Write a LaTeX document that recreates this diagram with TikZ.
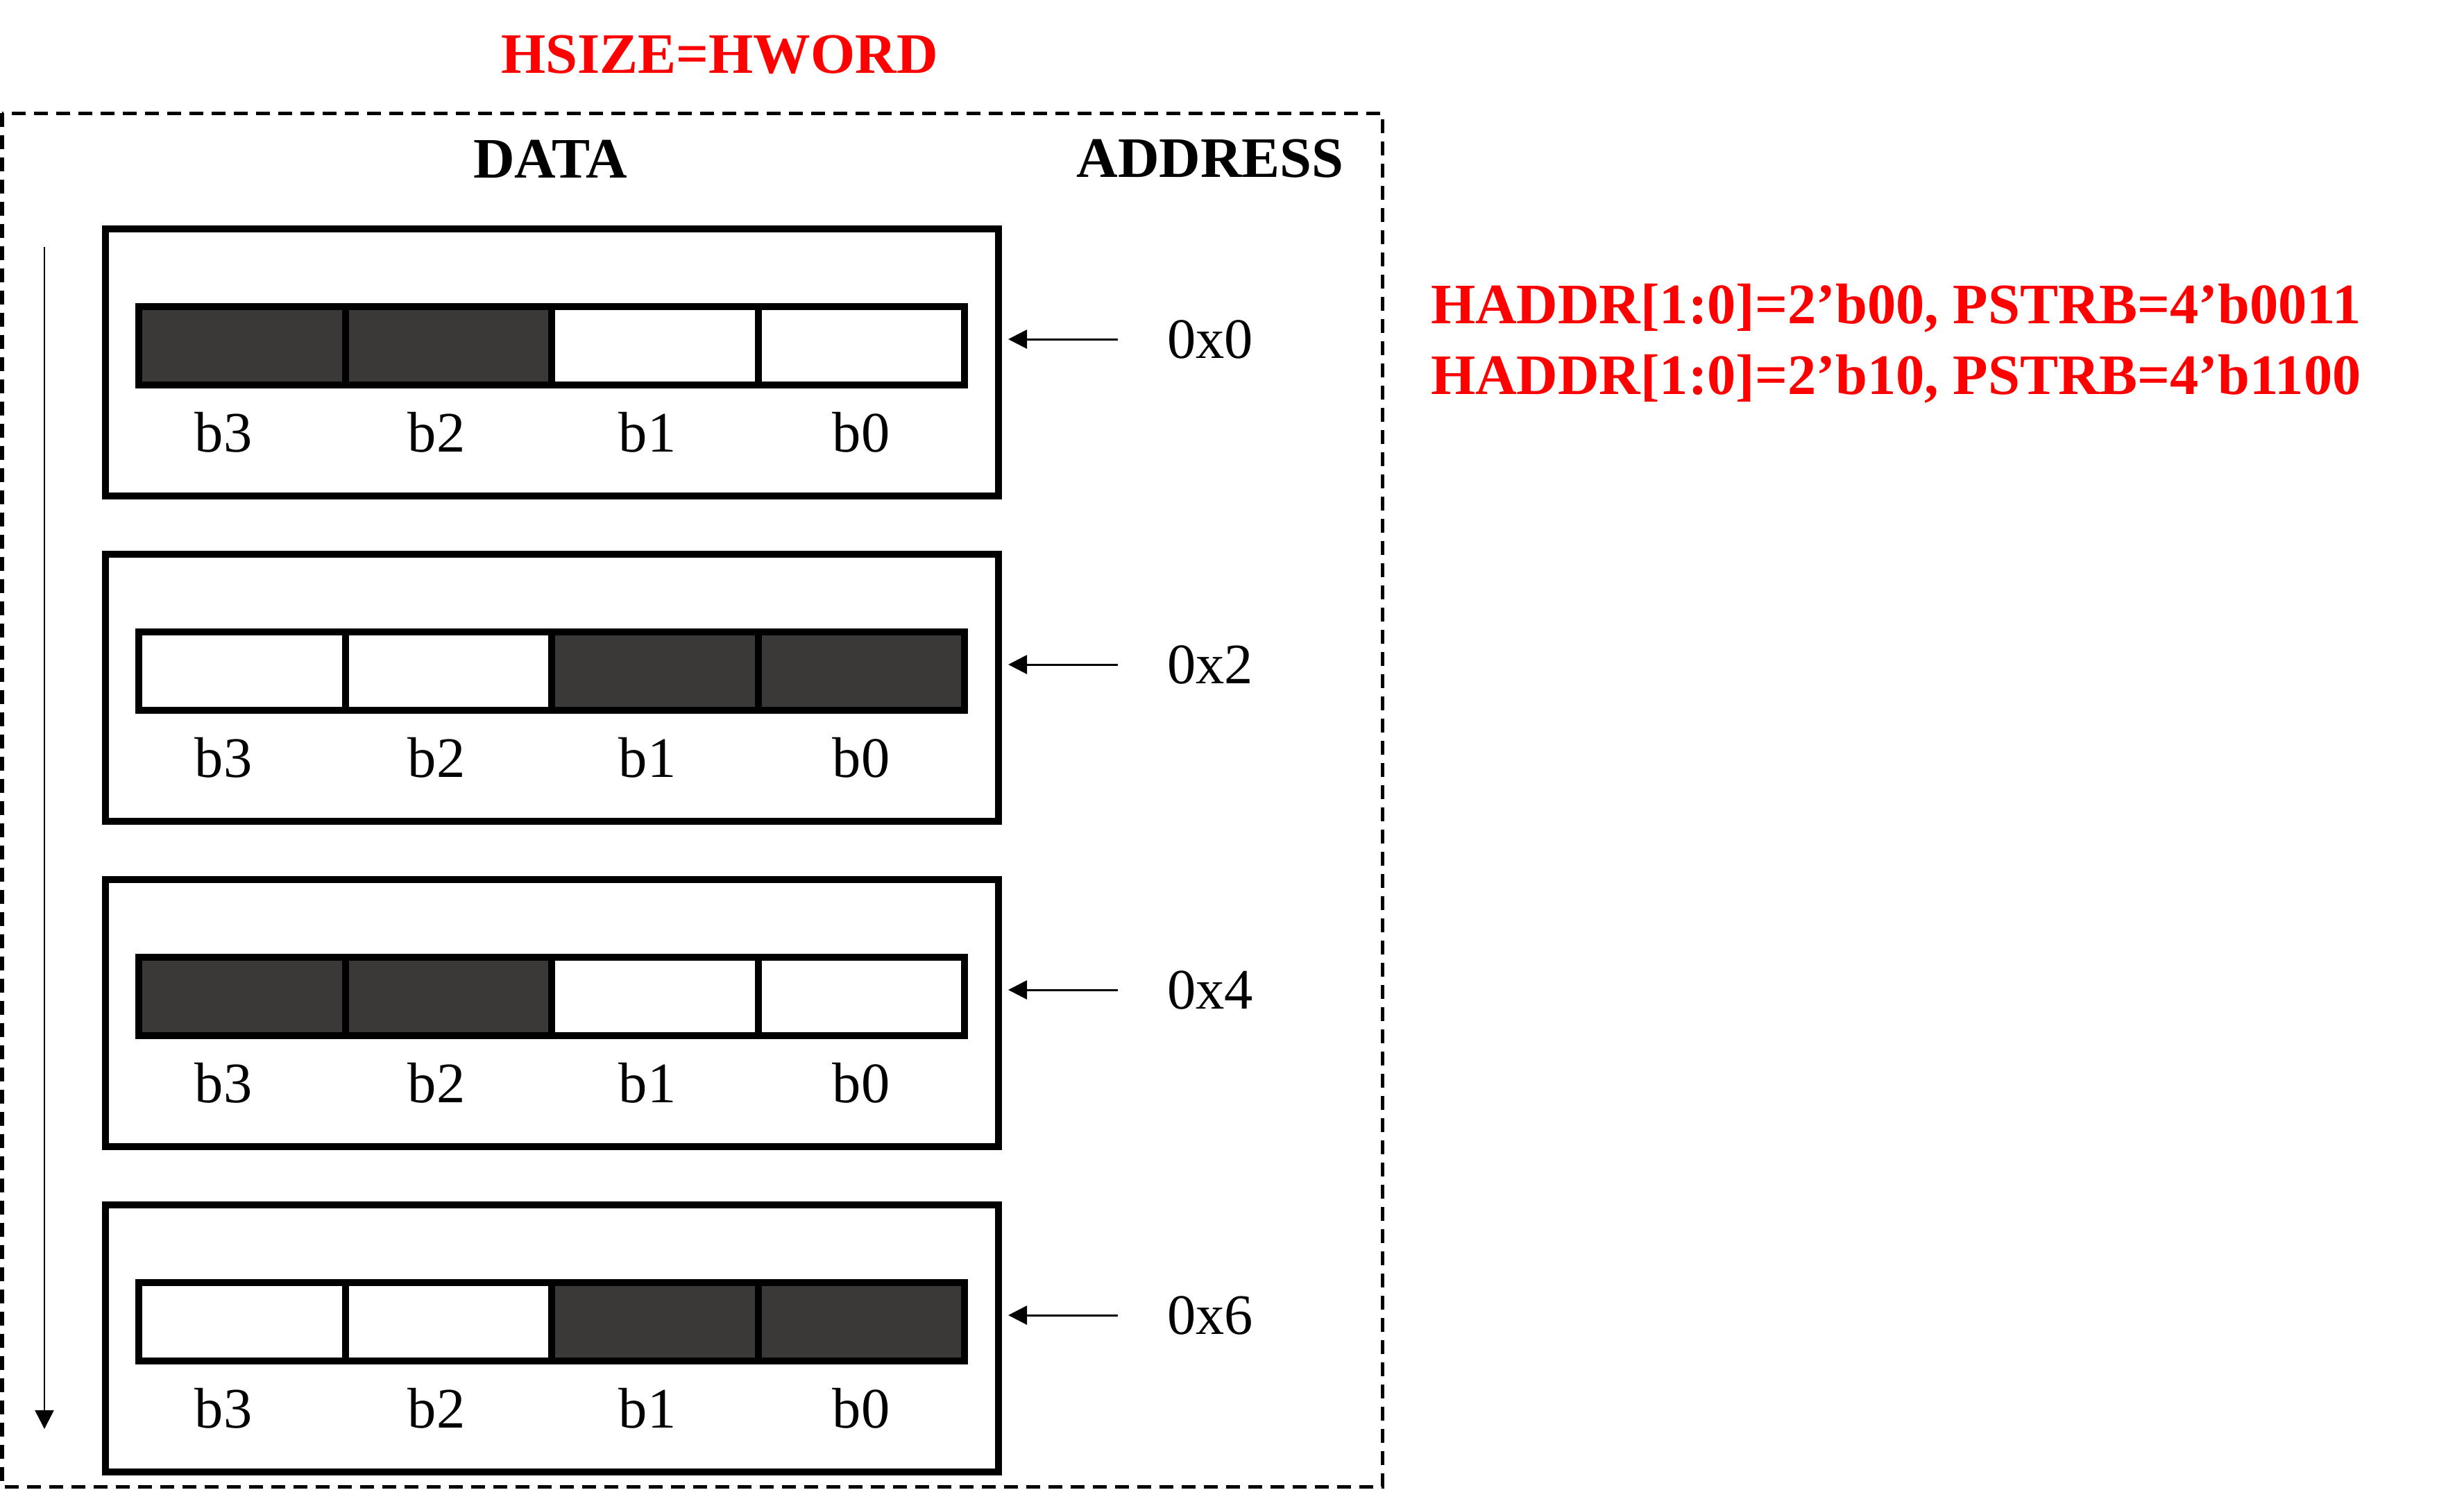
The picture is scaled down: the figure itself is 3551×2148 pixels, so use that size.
\documentclass[tikz,border=0pt]{standalone}
\usepackage{fontspec}
\setmainfont{Liberation Serif}
\usetikzlibrary{arrows.meta}
\definecolor{cellfill}{RGB}{58,57,55}
\definecolor{hired}{RGB}{255,0,0}
\begin{document}
\begin{tikzpicture}[x=0.2pt,y=-0.2pt,
  txt/.style={font=\fontsize{16.5}{20}\selectfont, inner sep=0pt},
  btxt/.style={font=\fontsize{16.5}{20}\selectfont\bfseries, inner sep=0pt},
  redtxt/.style={btxt, text=hired},
  dashframe/.style={draw, line width=1pt, dash pattern=on 4pt off 2.4pt},
  outerbox/.style={draw, line width=2pt, minimum width=257.4pt, minimum height=77pt, inner sep=0pt},
  cell/.style={draw, line width=2pt, minimum width=59.5pt, minimum height=22.6pt, inner sep=0pt},
  addrarrow/.style={-{Triangle[length=5.4pt,width=5.4pt]}, line width=0.6pt, shorten <=14pt, shorten >=1.8pt},
  timearrow/.style={-{Triangle[length=5.4pt,width=5.4pt]}, line width=0.5pt}
]
\useasboundingbox (0,0) rectangle (3551,2148);
\fill[white] (0,0) rectangle (3551,2148);

\draw[dashframe] (3,163) rectangle (1992,2143);

\node[redtxt] (hsize) at (1037,79) {HSIZE=HWORD};
\node[btxt] (data) at (793,229) {DATA};
\node[btxt] (address) at (1744,229) {ADDRESS};

\node[redtxt, anchor=west] (note1) at (2061,444) {HADDR[1:0]=2’b00, PSTRB=4’b0011};
\node[redtxt, anchor=west] (note2) at (2061,546) {HADDR[1:0]=2’b10, PSTRB=4’b1100};

\coordinate (tstart) at (64,356);
\coordinate (tend) at (64,2060);
\draw[timearrow] (tstart) -- (tend);

\foreach \i/\T/\fa/\fb/\addr in {0/330/cellfill/white/0, 1/799/white/cellfill/2, 2/1268/cellfill/white/4, 3/1737/white/cellfill/6} {
  \node[outerbox] (box\i) at (795.5,\T+192.5) {};
  \node[cell, fill=\fa] (c\i b3) at (348.75,\T+168.5) {};
  \node[cell, fill=\fa] (c\i b2) at (646.25,\T+168.5) {};
  \node[cell, fill=\fb] (c\i b1) at (943.75,\T+168.5) {};
  \node[cell, fill=\fb] (c\i b0) at (1241.25,\T+168.5) {};
  \node[txt] (l\i b3) at (322,\T+293) {b3};
  \node[txt] (l\i b2) at (629,\T+293) {b2};
  \node[txt] (l\i b1) at (933,\T+293) {b1};
  \node[txt] (l\i b0) at (1241,\T+293) {b0};
  \node[txt] (a\i) at (1744,\T+159) {0x\addr};
  \draw[addrarrow] (a\i.west) -- (box\i.east |- a\i.west);
}
\end{tikzpicture}
\end{document}
